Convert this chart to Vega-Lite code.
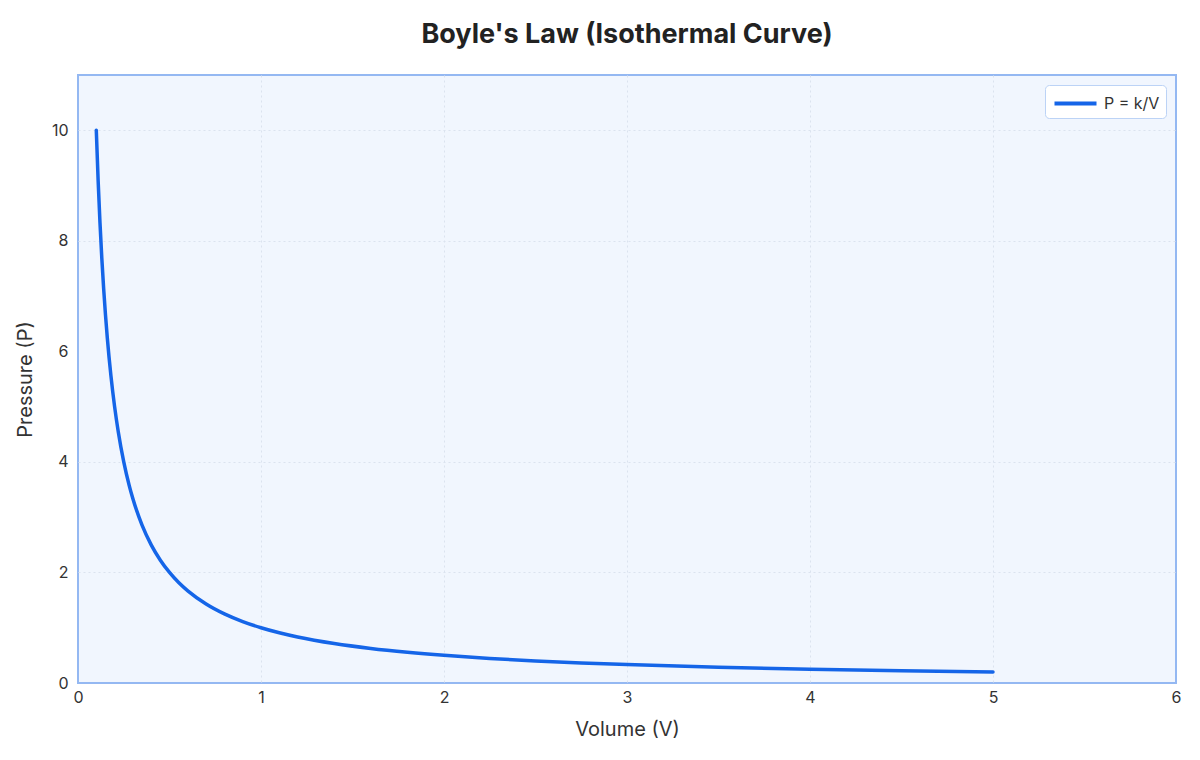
{
  "$schema": "https://vega.github.io/schema/vega-lite/v6.json",
  "autosize": {"type": "none"},
  "width": 1098,
  "height": 608,
  "padding": {"left": 78, "top": 75, "right": 24, "bottom": 77},
  "background": "white",
  "title": {
    "text": "Boyle's Law (Isothermal Curve)",
    "font": "Inter",
    "fontSize": 27,
    "fontWeight": "bold",
    "color": "#222222",
    "offset": 26,
    "anchor": "middle"
  },
  "config": {
    "font": "Inter",
    "view": {"fill": "#f1f6fe", "stroke": "#94b8f2", "strokeWidth": 2},
    "axis": {
      "grid": true,
      "gridColor": "#dbe3ef",
      "gridDash": [2, 3],
      "gridWidth": 1,
      "gridOpacity": {"condition": {"test": "datum.value === 0 || datum.value === 6", "value": 0}, "value": 1},
      "ticks": false,
      "domain": false,
      "labelFlush": false,
      "labelFont": "Inter",
      "labelFontSize": 16,
      "labelColor": "#333333",
      "titleFont": "Inter",
      "titleFontSize": 20,
      "titleFontWeight": "normal",
      "titleColor": "#333333"
    }
  },
  "data": {
    "values": [
      {"V": 0.1, "P": 10, "series": "P = k/V"},
      {"V": 0.11, "P": 9.091, "series": "P = k/V"},
      {"V": 0.12, "P": 8.333, "series": "P = k/V"},
      {"V": 0.13, "P": 7.692, "series": "P = k/V"},
      {"V": 0.14, "P": 7.143, "series": "P = k/V"},
      {"V": 0.15, "P": 6.667, "series": "P = k/V"},
      {"V": 0.16, "P": 6.25, "series": "P = k/V"},
      {"V": 0.18, "P": 5.556, "series": "P = k/V"},
      {"V": 0.2, "P": 5, "series": "P = k/V"},
      {"V": 0.22, "P": 4.545, "series": "P = k/V"},
      {"V": 0.25, "P": 4, "series": "P = k/V"},
      {"V": 0.28, "P": 3.571, "series": "P = k/V"},
      {"V": 0.3, "P": 3.333, "series": "P = k/V"},
      {"V": 0.35, "P": 2.857, "series": "P = k/V"},
      {"V": 0.4, "P": 2.5, "series": "P = k/V"},
      {"V": 0.45, "P": 2.222, "series": "P = k/V"},
      {"V": 0.5, "P": 2, "series": "P = k/V"},
      {"V": 0.55, "P": 1.818, "series": "P = k/V"},
      {"V": 0.6, "P": 1.667, "series": "P = k/V"},
      {"V": 0.7, "P": 1.429, "series": "P = k/V"},
      {"V": 0.8, "P": 1.25, "series": "P = k/V"},
      {"V": 0.9, "P": 1.111, "series": "P = k/V"},
      {"V": 1.0, "P": 1, "series": "P = k/V"},
      {"V": 1.1, "P": 0.909, "series": "P = k/V"},
      {"V": 1.2, "P": 0.833, "series": "P = k/V"},
      {"V": 1.4, "P": 0.714, "series": "P = k/V"},
      {"V": 1.6, "P": 0.625, "series": "P = k/V"},
      {"V": 1.8, "P": 0.556, "series": "P = k/V"},
      {"V": 2.0, "P": 0.5, "series": "P = k/V"},
      {"V": 2.25, "P": 0.444, "series": "P = k/V"},
      {"V": 2.5, "P": 0.4, "series": "P = k/V"},
      {"V": 2.75, "P": 0.364, "series": "P = k/V"},
      {"V": 3.0, "P": 0.333, "series": "P = k/V"},
      {"V": 3.5, "P": 0.286, "series": "P = k/V"},
      {"V": 4.0, "P": 0.25, "series": "P = k/V"},
      {"V": 4.5, "P": 0.222, "series": "P = k/V"},
      {"V": 5.0, "P": 0.2, "series": "P = k/V"}
    ]
  },
  "mark": {"type": "line", "strokeWidth": 3.5, "interpolate": "monotone", "strokeCap": "round"},
  "encoding": {
    "x": {
      "field": "V",
      "type": "quantitative",
      "scale": {"domain": [0, 6], "nice": false, "zero": false},
      "axis": {"title": "Volume (V)", "values": [0, 1, 2, 3, 4, 5, 6], "labelPadding": 6, "titlePadding": 14}
    },
    "y": {
      "field": "P",
      "type": "quantitative",
      "scale": {"domain": [0, 11], "nice": false},
      "axis": {"title": "Pressure (P)", "values": [0, 2, 4, 6, 8, 10], "labelPadding": 10, "titlePadding": 16}
    },
    "color": {
      "field": "series",
      "type": "nominal",
      "scale": {"range": ["#1565e8"]},
      "legend": {
        "title": null,
        "orient": "top-right",
        "offset": 10,
        "symbolType": "M-2,0H2",
        "symbolStrokeWidth": 4,
        "symbolSize": 441,
        "symbolOffset": 12,
        "labelFontSize": 16,
        "labelOffset": 16,
        "labelColor": "#333333",
        "fillColor": "white",
        "strokeColor": "#bcd3f6",
        "padding": 6,
        "cornerRadius": 4
      }
    }
  }
}
